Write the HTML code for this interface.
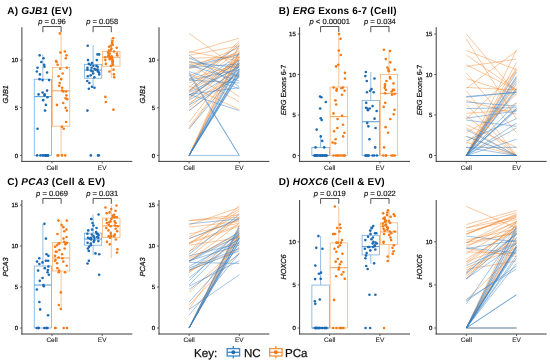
<!DOCTYPE html>
<html><head><meta charset="utf-8"><style>
html,body{margin:0;padding:0;background:#fff;width:550px;height:364px;overflow:hidden;position:relative}
</style></head><body>
<svg width="550" height="364" viewBox="0 0 550 364" style="position:absolute;left:0;top:0;font-family:'Liberation Sans', sans-serif;text-rendering:geometricPrecision;filter:blur(0.3px)">
<rect width="550" height="364" fill="#ffffff"/>
<text x="7.3" y="13.95" font-size="10.0" font-weight="bold" text-anchor="start" fill="#000" letter-spacing="0.22" xml:space="preserve"><tspan>A) </tspan><tspan font-style="italic">GJB1</tspan><tspan> (EV)</tspan></text>
<line x1="21.9" y1="27.2" x2="21.9" y2="161.9" stroke="#3d3d3d" stroke-width="1.0"/>
<line x1="21.4" y1="161.4" x2="132.3" y2="161.4" stroke="#3d3d3d" stroke-width="1.0"/>
<line x1="19.9" y1="155.4" x2="21.9" y2="155.4" stroke="#3d3d3d" stroke-width="0.8"/>
<text x="18.1" y="157.55" font-size="6.0" font-weight="normal" text-anchor="end" fill="#111" stroke="#111" stroke-width="0.25" xml:space="preserve"><tspan>0</tspan></text>
<line x1="19.9" y1="107.75" x2="21.9" y2="107.75" stroke="#3d3d3d" stroke-width="0.8"/>
<text x="18.1" y="109.9" font-size="6.0" font-weight="normal" text-anchor="end" fill="#111" stroke="#111" stroke-width="0.25" xml:space="preserve"><tspan>5</tspan></text>
<line x1="19.9" y1="60.1" x2="21.9" y2="60.1" stroke="#3d3d3d" stroke-width="0.8"/>
<text x="18.1" y="62.25" font-size="6.0" font-weight="normal" text-anchor="end" fill="#111" stroke="#111" stroke-width="0.25" xml:space="preserve"><tspan>10</tspan></text>
<line x1="52" y1="161.4" x2="52" y2="163.4" stroke="#3d3d3d" stroke-width="0.8"/>
<text x="52" y="169.6" font-size="6.5" font-weight="normal" text-anchor="middle" fill="#222" stroke="#222" stroke-width="0.1" xml:space="preserve"><tspan>Cell</tspan></text>
<line x1="102.2" y1="161.4" x2="102.2" y2="163.4" stroke="#3d3d3d" stroke-width="0.8"/>
<text x="102.2" y="169.6" font-size="6.5" font-weight="normal" text-anchor="middle" fill="#222" stroke="#222" stroke-width="0.1" xml:space="preserve"><tspan>EV</tspan></text>
<g transform="translate(7.8,94.3) rotate(-90)">
<text x="0" y="0" font-size="7.3" font-weight="normal" text-anchor="middle" fill="#111" stroke="#111" stroke-width="0.22" xml:space="preserve"><tspan font-style="italic">GJB1</tspan></text>
</g>
<line x1="159" y1="27.2" x2="159" y2="161.9" stroke="#3d3d3d" stroke-width="1.0"/>
<line x1="158.5" y1="161.4" x2="269.4" y2="161.4" stroke="#3d3d3d" stroke-width="1.0"/>
<line x1="157" y1="155.4" x2="159" y2="155.4" stroke="#3d3d3d" stroke-width="0.8"/>
<text x="155.2" y="157.55" font-size="6.0" font-weight="normal" text-anchor="end" fill="#111" stroke="#111" stroke-width="0.25" xml:space="preserve"><tspan>0</tspan></text>
<line x1="157" y1="107.75" x2="159" y2="107.75" stroke="#3d3d3d" stroke-width="0.8"/>
<text x="155.2" y="109.9" font-size="6.0" font-weight="normal" text-anchor="end" fill="#111" stroke="#111" stroke-width="0.25" xml:space="preserve"><tspan>5</tspan></text>
<line x1="157" y1="60.1" x2="159" y2="60.1" stroke="#3d3d3d" stroke-width="0.8"/>
<text x="155.2" y="62.25" font-size="6.0" font-weight="normal" text-anchor="end" fill="#111" stroke="#111" stroke-width="0.25" xml:space="preserve"><tspan>10</tspan></text>
<line x1="189.1" y1="161.4" x2="189.1" y2="163.4" stroke="#3d3d3d" stroke-width="0.8"/>
<text x="189.1" y="169.6" font-size="6.5" font-weight="normal" text-anchor="middle" fill="#222" stroke="#222" stroke-width="0.1" xml:space="preserve"><tspan>Cell</tspan></text>
<line x1="239.3" y1="161.4" x2="239.3" y2="163.4" stroke="#3d3d3d" stroke-width="0.8"/>
<text x="239.3" y="169.6" font-size="6.5" font-weight="normal" text-anchor="middle" fill="#222" stroke="#222" stroke-width="0.1" xml:space="preserve"><tspan>EV</tspan></text>
<g transform="translate(144.9,94.3) rotate(-90)">
<text x="0" y="0" font-size="7.3" font-weight="normal" text-anchor="middle" fill="#111" stroke="#111" stroke-width="0.22" xml:space="preserve"><tspan font-style="italic">GJB1</tspan></text>
</g>
<text x="52" y="24.3" font-size="7.6" font-weight="normal" text-anchor="middle" fill="#111" stroke="#111" stroke-width="0.15" xml:space="preserve"><tspan font-style="italic">p</tspan><tspan> = 0.96</tspan></text>
<path d="M42.9 32.2 V26.5 H61.1 V32.2" stroke="#333" stroke-width="0.85" fill="none"/>
<text x="102.2" y="24.3" font-size="7.6" font-weight="normal" text-anchor="middle" fill="#111" stroke="#111" stroke-width="0.15" xml:space="preserve"><tspan font-style="italic">p</tspan><tspan> = 0.058</tspan></text>
<path d="M93.1 32.2 V26.5 H111.3 V32.2" stroke="#333" stroke-width="0.85" fill="none"/>
<g stroke="#5b9ad6" stroke-width="0.65" fill="none">
<line x1="42.9" y1="79.16" x2="42.9" y2="54.38"/>
<rect x="34.2" y="79.16" width="17.4" height="76.24"/>
<line x1="34.2" y1="96.6" x2="51.6" y2="96.6" stroke-width="1.05"/>
</g>
<g fill="#1c6bb4">
<circle cx="39.65" cy="55.34" r="1.3"/>
<circle cx="43.45" cy="58.19" r="1.3"/>
<circle cx="41.29" cy="62.01" r="1.3"/>
<circle cx="44.19" cy="64.87" r="1.3"/>
<circle cx="44.46" cy="66.77" r="1.3"/>
<circle cx="37.51" cy="67.72" r="1.3"/>
<circle cx="36.86" cy="71.54" r="1.3"/>
<circle cx="47.08" cy="72.49" r="1.3"/>
<circle cx="39.92" cy="74.4" r="1.3"/>
<circle cx="39.61" cy="79.16" r="1.3"/>
<circle cx="49.05" cy="80.11" r="1.3"/>
<circle cx="42.53" cy="80.11" r="1.3"/>
<circle cx="47.07" cy="90.6" r="1.3"/>
<circle cx="42.61" cy="92.5" r="1.3"/>
<circle cx="44.62" cy="94.41" r="1.3"/>
<circle cx="38.57" cy="94.41" r="1.3"/>
<circle cx="44.57" cy="95.36" r="1.3"/>
<circle cx="47.46" cy="97.27" r="1.3"/>
<circle cx="43.19" cy="100.13" r="1.3"/>
<circle cx="45.89" cy="104.89" r="1.3"/>
<circle cx="45.03" cy="110.61" r="1.3"/>
<circle cx="37.49" cy="128.72" r="1.3"/>
<circle cx="46.1" cy="155.4" r="1.3"/>
<circle cx="44.03" cy="155.4" r="1.3"/>
<circle cx="40.44" cy="155.4" r="1.3"/>
<circle cx="37.08" cy="155.4" r="1.3"/>
<circle cx="47.43" cy="155.4" r="1.3"/>
<circle cx="42.56" cy="155.4" r="1.3"/>
<circle cx="45.61" cy="155.4" r="1.3"/>
<circle cx="47.6" cy="155.4" r="1.3"/>
<circle cx="45.56" cy="155.4" r="1.3"/>
<circle cx="48.12" cy="155.4" r="1.3"/>
</g>
<g stroke="#f5a45c" stroke-width="0.65" fill="none">
<line x1="61.1" y1="67.53" x2="61.1" y2="33.13"/>
<line x1="61.1" y1="126.14" x2="61.1" y2="155.4"/>
<rect x="52.4" y="67.53" width="17.4" height="58.61"/>
<line x1="52.4" y1="90.79" x2="69.8" y2="90.79" stroke-width="1.05"/>
</g>
<g fill="#f57a14">
<circle cx="59.8" cy="33.42" r="1.3"/>
<circle cx="64.83" cy="51.52" r="1.3"/>
<circle cx="60.41" cy="52.48" r="1.3"/>
<circle cx="66.5" cy="55.34" r="1.3"/>
<circle cx="65.8" cy="58.19" r="1.3"/>
<circle cx="56.11" cy="61.05" r="1.3"/>
<circle cx="56.59" cy="62.01" r="1.3"/>
<circle cx="57.59" cy="64.87" r="1.3"/>
<circle cx="66.87" cy="67.72" r="1.3"/>
<circle cx="60.31" cy="68.68" r="1.3"/>
<circle cx="62.67" cy="73.44" r="1.3"/>
<circle cx="58.63" cy="76.3" r="1.3"/>
<circle cx="61.19" cy="79.16" r="1.3"/>
<circle cx="59.68" cy="82.97" r="1.3"/>
<circle cx="59.25" cy="85.83" r="1.3"/>
<circle cx="62.15" cy="87.74" r="1.3"/>
<circle cx="62.14" cy="90.6" r="1.3"/>
<circle cx="66.11" cy="91.55" r="1.3"/>
<circle cx="63.36" cy="91.55" r="1.3"/>
<circle cx="66.42" cy="95.36" r="1.3"/>
<circle cx="65.52" cy="98.22" r="1.3"/>
<circle cx="67.19" cy="99.17" r="1.3"/>
<circle cx="63.22" cy="102.99" r="1.3"/>
<circle cx="56.92" cy="104.89" r="1.3"/>
<circle cx="65.57" cy="107.75" r="1.3"/>
<circle cx="66.86" cy="110.61" r="1.3"/>
<circle cx="66.12" cy="122.05" r="1.3"/>
<circle cx="61.96" cy="126.81" r="1.3"/>
<circle cx="63.75" cy="128.72" r="1.3"/>
<circle cx="57.52" cy="155.4" r="1.3"/>
<circle cx="65.21" cy="155.4" r="1.3"/>
<circle cx="62.01" cy="155.4" r="1.3"/>
<circle cx="58.43" cy="155.4" r="1.3"/>
</g>
<g stroke="#5b9ad6" stroke-width="0.65" fill="none">
<line x1="93.1" y1="64.29" x2="93.1" y2="45.14"/>
<line x1="93.1" y1="78.21" x2="93.1" y2="88.02"/>
<rect x="84.4" y="64.29" width="17.4" height="13.91"/>
<line x1="84.4" y1="70.11" x2="101.8" y2="70.11" stroke-width="1.05"/>
</g>
<g fill="#1c6bb4">
<circle cx="87.69" cy="45.81" r="1.3"/>
<circle cx="97.49" cy="54.38" r="1.3"/>
<circle cx="99.17" cy="54.38" r="1.3"/>
<circle cx="88" cy="60.1" r="1.3"/>
<circle cx="96.83" cy="60.1" r="1.3"/>
<circle cx="91.99" cy="62.96" r="1.3"/>
<circle cx="88.77" cy="63.91" r="1.3"/>
<circle cx="90.54" cy="64.87" r="1.3"/>
<circle cx="96.43" cy="65.82" r="1.3"/>
<circle cx="97.72" cy="66.77" r="1.3"/>
<circle cx="87.45" cy="67.72" r="1.3"/>
<circle cx="94.52" cy="68.68" r="1.3"/>
<circle cx="87.46" cy="69.63" r="1.3"/>
<circle cx="95.81" cy="69.63" r="1.3"/>
<circle cx="91" cy="70.58" r="1.3"/>
<circle cx="97.82" cy="71.54" r="1.3"/>
<circle cx="99.06" cy="72.49" r="1.3"/>
<circle cx="93.17" cy="73.44" r="1.3"/>
<circle cx="99.28" cy="74.4" r="1.3"/>
<circle cx="90.74" cy="75.35" r="1.3"/>
<circle cx="87.85" cy="76.3" r="1.3"/>
<circle cx="94.34" cy="77.25" r="1.3"/>
<circle cx="87.29" cy="81.07" r="1.3"/>
<circle cx="89.35" cy="82.97" r="1.3"/>
<circle cx="91.96" cy="86.78" r="1.3"/>
<circle cx="94.47" cy="87.74" r="1.3"/>
<circle cx="88.84" cy="88.69" r="1.3"/>
<circle cx="87.43" cy="110.61" r="1.3"/>
<circle cx="97.66" cy="69.63" r="1.3"/>
<circle cx="90.79" cy="155.4" r="1.3"/>
<circle cx="98.79" cy="155.4" r="1.3"/>
<circle cx="98.02" cy="155.4" r="1.3"/>
<circle cx="91.58" cy="67.72" r="1.3"/>
<circle cx="92.61" cy="71.54" r="1.3"/>
<circle cx="93.35" cy="65.82" r="1.3"/>
</g>
<g stroke="#f5a45c" stroke-width="0.65" fill="none">
<line x1="111.3" y1="51.52" x2="111.3" y2="38.18"/>
<line x1="111.3" y1="66.2" x2="111.3" y2="77.83"/>
<rect x="102.6" y="51.52" width="17.4" height="14.68"/>
<line x1="102.6" y1="57.24" x2="120" y2="57.24" stroke-width="1.05"/>
</g>
<g fill="#f57a14">
<circle cx="113.08" cy="38.18" r="1.3"/>
<circle cx="112.49" cy="41.04" r="1.3"/>
<circle cx="112.03" cy="42.95" r="1.3"/>
<circle cx="112.79" cy="44.85" r="1.3"/>
<circle cx="116.76" cy="47.71" r="1.3"/>
<circle cx="111.39" cy="48.66" r="1.3"/>
<circle cx="110.45" cy="50.57" r="1.3"/>
<circle cx="114.03" cy="51.52" r="1.3"/>
<circle cx="108.05" cy="52.48" r="1.3"/>
<circle cx="108.83" cy="54.38" r="1.3"/>
<circle cx="117.22" cy="55.34" r="1.3"/>
<circle cx="111.56" cy="56.29" r="1.3"/>
<circle cx="111.9" cy="57.24" r="1.3"/>
<circle cx="105.24" cy="57.24" r="1.3"/>
<circle cx="110.25" cy="58.19" r="1.3"/>
<circle cx="112.29" cy="59.15" r="1.3"/>
<circle cx="105.35" cy="60.1" r="1.3"/>
<circle cx="112.74" cy="61.05" r="1.3"/>
<circle cx="112.94" cy="62.01" r="1.3"/>
<circle cx="105.84" cy="63.91" r="1.3"/>
<circle cx="112.88" cy="64.87" r="1.3"/>
<circle cx="110.88" cy="65.82" r="1.3"/>
<circle cx="113.52" cy="69.63" r="1.3"/>
<circle cx="109.47" cy="71.54" r="1.3"/>
<circle cx="113.87" cy="74.4" r="1.3"/>
<circle cx="114.25" cy="77.25" r="1.3"/>
<circle cx="105.38" cy="96.89" r="1.3"/>
<circle cx="105.85" cy="102.03" r="1.3"/>
<circle cx="113.48" cy="109.66" r="1.3"/>
<circle cx="117.04" cy="53.43" r="1.3"/>
<circle cx="108.21" cy="56.29" r="1.3"/>
<circle cx="110.76" cy="45.81" r="1.3"/>
<circle cx="112.45" cy="62.96" r="1.3"/>
<circle cx="109.07" cy="46.76" r="1.3"/>
<circle cx="109.61" cy="53.43" r="1.3"/>
<circle cx="108.98" cy="55.34" r="1.3"/>
<circle cx="109.68" cy="59.15" r="1.3"/>
<circle cx="112.49" cy="61.05" r="1.3"/>
<circle cx="108.83" cy="50.57" r="1.3"/>
<circle cx="109.78" cy="57.24" r="1.3"/>
</g>
<g stroke="#f28a35" stroke-width="0.8" stroke-opacity="0.58" fill="none">
<line x1="189.1" y1="73.44" x2="239.3" y2="102.03"/>
<line x1="189.1" y1="62.01" x2="239.3" y2="96.89"/>
<line x1="189.1" y1="55.34" x2="239.3" y2="45.81"/>
<line x1="189.1" y1="128.72" x2="239.3" y2="62.96"/>
<line x1="189.1" y1="64.87" x2="239.3" y2="53.43"/>
<line x1="189.1" y1="67.72" x2="239.3" y2="47.71"/>
<line x1="189.1" y1="58.19" x2="239.3" y2="57.24"/>
<line x1="189.1" y1="61.05" x2="239.3" y2="77.25"/>
<line x1="189.1" y1="33.42" x2="239.3" y2="69.63"/>
<line x1="189.1" y1="91.55" x2="239.3" y2="48.66"/>
<line x1="189.1" y1="52.48" x2="239.3" y2="38.18"/>
<line x1="189.1" y1="102.99" x2="239.3" y2="74.4"/>
<line x1="189.1" y1="82.97" x2="239.3" y2="64.87"/>
<line x1="189.1" y1="79.16" x2="239.3" y2="63.91"/>
<line x1="189.1" y1="85.83" x2="239.3" y2="109.66"/>
<line x1="189.1" y1="155.4" x2="239.3" y2="51.52"/>
<line x1="189.1" y1="99.17" x2="239.3" y2="55.34"/>
<line x1="189.1" y1="122.05" x2="239.3" y2="57.24"/>
<line x1="189.1" y1="155.4" x2="239.3" y2="56.29"/>
<line x1="189.1" y1="107.75" x2="239.3" y2="65.82"/>
<line x1="189.1" y1="91.55" x2="239.3" y2="59.15"/>
<line x1="189.1" y1="98.22" x2="239.3" y2="60.1"/>
<line x1="189.1" y1="68.68" x2="239.3" y2="54.38"/>
<line x1="189.1" y1="90.6" x2="239.3" y2="42.95"/>
<line x1="189.1" y1="155.4" x2="239.3" y2="44.85"/>
<line x1="189.1" y1="126.81" x2="239.3" y2="62.01"/>
<line x1="189.1" y1="110.61" x2="239.3" y2="71.54"/>
<line x1="189.1" y1="76.3" x2="239.3" y2="50.57"/>
<line x1="189.1" y1="104.89" x2="239.3" y2="56.29"/>
<line x1="189.1" y1="51.52" x2="239.3" y2="61.05"/>
<line x1="189.1" y1="87.74" x2="239.3" y2="41.04"/>
<line x1="189.1" y1="95.36" x2="239.3" y2="58.19"/>
<line x1="189.1" y1="155.4" x2="239.3" y2="52.48"/>
</g>
<g stroke="#3a82c4" stroke-width="0.8" stroke-opacity="0.6" fill="none">
<line x1="189.1" y1="97.27" x2="239.3" y2="60.1"/>
<line x1="189.1" y1="155.4" x2="239.3" y2="155.4"/>
<line x1="189.1" y1="155.4" x2="239.3" y2="62.96"/>
<line x1="189.1" y1="66.77" x2="239.3" y2="54.38"/>
<line x1="189.1" y1="92.5" x2="239.3" y2="66.77"/>
<line x1="189.1" y1="104.89" x2="239.3" y2="77.25"/>
<line x1="189.1" y1="155.4" x2="239.3" y2="73.44"/>
<line x1="189.1" y1="71.54" x2="239.3" y2="88.69"/>
<line x1="189.1" y1="94.41" x2="239.3" y2="110.61"/>
<line x1="189.1" y1="80.11" x2="239.3" y2="82.97"/>
<line x1="189.1" y1="155.4" x2="239.3" y2="70.58"/>
<line x1="189.1" y1="72.49" x2="239.3" y2="155.4"/>
<line x1="189.1" y1="155.4" x2="239.3" y2="75.35"/>
<line x1="189.1" y1="155.4" x2="239.3" y2="64.87"/>
<line x1="189.1" y1="100.13" x2="239.3" y2="69.63"/>
<line x1="189.1" y1="55.34" x2="239.3" y2="86.78"/>
<line x1="189.1" y1="58.19" x2="239.3" y2="76.3"/>
<line x1="189.1" y1="155.4" x2="239.3" y2="71.54"/>
<line x1="189.1" y1="155.4" x2="239.3" y2="69.63"/>
<line x1="189.1" y1="67.72" x2="239.3" y2="63.91"/>
<line x1="189.1" y1="94.41" x2="239.3" y2="87.74"/>
<line x1="189.1" y1="90.6" x2="239.3" y2="54.38"/>
<line x1="189.1" y1="128.72" x2="239.3" y2="68.68"/>
<line x1="189.1" y1="155.4" x2="239.3" y2="60.1"/>
<line x1="189.1" y1="62.01" x2="239.3" y2="67.72"/>
<line x1="189.1" y1="79.16" x2="239.3" y2="45.81"/>
<line x1="189.1" y1="64.87" x2="239.3" y2="81.07"/>
<line x1="189.1" y1="110.61" x2="239.3" y2="72.49"/>
<line x1="189.1" y1="95.36" x2="239.3" y2="65.82"/>
<line x1="189.1" y1="155.4" x2="239.3" y2="74.4"/>
<line x1="189.1" y1="74.4" x2="239.3" y2="155.4"/>
<line x1="189.1" y1="80.11" x2="239.3" y2="69.63"/>
</g>
<text x="278.8" y="13.95" font-size="10.0" font-weight="bold" text-anchor="start" fill="#000" letter-spacing="0.22" xml:space="preserve"><tspan>B) </tspan><tspan font-style="italic">ERG</tspan><tspan> Exons 6-7 (Cell)</tspan></text>
<line x1="299.6" y1="27.2" x2="299.6" y2="161.9" stroke="#3d3d3d" stroke-width="1.0"/>
<line x1="299.1" y1="161.4" x2="410" y2="161.4" stroke="#3d3d3d" stroke-width="1.0"/>
<line x1="297.6" y1="155.5" x2="299.6" y2="155.5" stroke="#3d3d3d" stroke-width="0.8"/>
<text x="295.8" y="157.65" font-size="6.0" font-weight="normal" text-anchor="end" fill="#111" stroke="#111" stroke-width="0.25" xml:space="preserve"><tspan>0</tspan></text>
<line x1="297.6" y1="115" x2="299.6" y2="115" stroke="#3d3d3d" stroke-width="0.8"/>
<text x="295.8" y="117.15" font-size="6.0" font-weight="normal" text-anchor="end" fill="#111" stroke="#111" stroke-width="0.25" xml:space="preserve"><tspan>5</tspan></text>
<line x1="297.6" y1="74.5" x2="299.6" y2="74.5" stroke="#3d3d3d" stroke-width="0.8"/>
<text x="295.8" y="76.65" font-size="6.0" font-weight="normal" text-anchor="end" fill="#111" stroke="#111" stroke-width="0.25" xml:space="preserve"><tspan>10</tspan></text>
<line x1="297.6" y1="34" x2="299.6" y2="34" stroke="#3d3d3d" stroke-width="0.8"/>
<text x="295.8" y="36.15" font-size="6.0" font-weight="normal" text-anchor="end" fill="#111" stroke="#111" stroke-width="0.25" xml:space="preserve"><tspan>15</tspan></text>
<line x1="329.7" y1="161.4" x2="329.7" y2="163.4" stroke="#3d3d3d" stroke-width="0.8"/>
<text x="329.7" y="169.6" font-size="6.5" font-weight="normal" text-anchor="middle" fill="#222" stroke="#222" stroke-width="0.1" xml:space="preserve"><tspan>Cell</tspan></text>
<line x1="379.9" y1="161.4" x2="379.9" y2="163.4" stroke="#3d3d3d" stroke-width="0.8"/>
<text x="379.9" y="169.6" font-size="6.5" font-weight="normal" text-anchor="middle" fill="#222" stroke="#222" stroke-width="0.1" xml:space="preserve"><tspan>EV</tspan></text>
<g transform="translate(285.5,90) rotate(-90)">
<text x="0" y="0" font-size="7.3" font-weight="normal" text-anchor="middle" fill="#111" stroke="#111" stroke-width="0.22" xml:space="preserve"><tspan font-style="italic">ERG</tspan><tspan> Exons 6-7</tspan></text>
</g>
<line x1="436.2" y1="27.2" x2="436.2" y2="161.9" stroke="#3d3d3d" stroke-width="1.0"/>
<line x1="435.7" y1="161.4" x2="546.6" y2="161.4" stroke="#3d3d3d" stroke-width="1.0"/>
<line x1="434.2" y1="155.5" x2="436.2" y2="155.5" stroke="#3d3d3d" stroke-width="0.8"/>
<text x="432.4" y="157.65" font-size="6.0" font-weight="normal" text-anchor="end" fill="#111" stroke="#111" stroke-width="0.25" xml:space="preserve"><tspan>0</tspan></text>
<line x1="434.2" y1="115" x2="436.2" y2="115" stroke="#3d3d3d" stroke-width="0.8"/>
<text x="432.4" y="117.15" font-size="6.0" font-weight="normal" text-anchor="end" fill="#111" stroke="#111" stroke-width="0.25" xml:space="preserve"><tspan>5</tspan></text>
<line x1="434.2" y1="74.5" x2="436.2" y2="74.5" stroke="#3d3d3d" stroke-width="0.8"/>
<text x="432.4" y="76.65" font-size="6.0" font-weight="normal" text-anchor="end" fill="#111" stroke="#111" stroke-width="0.25" xml:space="preserve"><tspan>10</tspan></text>
<line x1="434.2" y1="34" x2="436.2" y2="34" stroke="#3d3d3d" stroke-width="0.8"/>
<text x="432.4" y="36.15" font-size="6.0" font-weight="normal" text-anchor="end" fill="#111" stroke="#111" stroke-width="0.25" xml:space="preserve"><tspan>15</tspan></text>
<line x1="466.3" y1="161.4" x2="466.3" y2="163.4" stroke="#3d3d3d" stroke-width="0.8"/>
<text x="466.3" y="169.6" font-size="6.5" font-weight="normal" text-anchor="middle" fill="#222" stroke="#222" stroke-width="0.1" xml:space="preserve"><tspan>Cell</tspan></text>
<line x1="516.5" y1="161.4" x2="516.5" y2="163.4" stroke="#3d3d3d" stroke-width="0.8"/>
<text x="516.5" y="169.6" font-size="6.5" font-weight="normal" text-anchor="middle" fill="#222" stroke="#222" stroke-width="0.1" xml:space="preserve"><tspan>EV</tspan></text>
<g transform="translate(422.1,90) rotate(-90)">
<text x="0" y="0" font-size="7.3" font-weight="normal" text-anchor="middle" fill="#111" stroke="#111" stroke-width="0.22" xml:space="preserve"><tspan font-style="italic">ERG</tspan><tspan> Exons 6-7</tspan></text>
</g>
<text x="329.7" y="24.3" font-size="7.6" font-weight="normal" text-anchor="middle" fill="#111" stroke="#111" stroke-width="0.15" xml:space="preserve"><tspan font-style="italic">p</tspan><tspan> &lt; 0.00001</tspan></text>
<path d="M320.6 32.2 V26.5 H338.8 V32.2" stroke="#333" stroke-width="0.85" fill="none"/>
<text x="379.9" y="24.3" font-size="7.6" font-weight="normal" text-anchor="middle" fill="#111" stroke="#111" stroke-width="0.15" xml:space="preserve"><tspan font-style="italic">p</tspan><tspan> = 0.034</tspan></text>
<path d="M370.8 32.2 V26.5 H389 V32.2" stroke="#333" stroke-width="0.85" fill="none"/>
<g stroke="#5b9ad6" stroke-width="0.65" fill="none">
<line x1="320.6" y1="147.4" x2="320.6" y2="136.87"/>
<rect x="311.9" y="147.4" width="17.4" height="8.1"/>
<line x1="311.9" y1="155.5" x2="329.3" y2="155.5" stroke-width="1.05"/>
</g>
<g fill="#1c6bb4">
<circle cx="320.01" cy="96.53" r="1.3"/>
<circle cx="321.34" cy="97.18" r="1.3"/>
<circle cx="325.86" cy="102.04" r="1.3"/>
<circle cx="320.17" cy="108.52" r="1.3"/>
<circle cx="320.7" cy="118.24" r="1.3"/>
<circle cx="321.68" cy="120.1" r="1.3"/>
<circle cx="316.69" cy="129.58" r="1.3"/>
<circle cx="320.75" cy="136.38" r="1.3"/>
<circle cx="322.21" cy="140.92" r="1.3"/>
<circle cx="324.23" cy="147.4" r="1.3"/>
<circle cx="315.57" cy="147.4" r="1.3"/>
<circle cx="318.16" cy="155.5" r="1.3"/>
<circle cx="315.52" cy="155.5" r="1.3"/>
<circle cx="324.44" cy="155.5" r="1.3"/>
<circle cx="323" cy="155.5" r="1.3"/>
<circle cx="314.92" cy="155.5" r="1.3"/>
<circle cx="326.58" cy="155.5" r="1.3"/>
<circle cx="326.36" cy="155.5" r="1.3"/>
<circle cx="322.51" cy="155.5" r="1.3"/>
<circle cx="322.03" cy="155.5" r="1.3"/>
<circle cx="316.35" cy="155.5" r="1.3"/>
<circle cx="314.59" cy="155.5" r="1.3"/>
<circle cx="320.95" cy="155.5" r="1.3"/>
<circle cx="315.14" cy="155.5" r="1.3"/>
<circle cx="316.76" cy="155.5" r="1.3"/>
<circle cx="317.4" cy="155.5" r="1.3"/>
<circle cx="314.77" cy="155.5" r="1.3"/>
<circle cx="320.15" cy="155.5" r="1.3"/>
<circle cx="319.86" cy="155.5" r="1.3"/>
<circle cx="324.85" cy="155.5" r="1.3"/>
</g>
<g stroke="#f5a45c" stroke-width="0.65" fill="none">
<line x1="338.8" y1="87.06" x2="338.8" y2="33.19"/>
<rect x="330.1" y="87.06" width="17.4" height="68.44"/>
<line x1="330.1" y1="116.62" x2="347.5" y2="116.62" stroke-width="1.05"/>
</g>
<g fill="#f57a14">
<circle cx="339.04" cy="34" r="1.3"/>
<circle cx="340.54" cy="38.86" r="1.3"/>
<circle cx="338.8" cy="50.61" r="1.3"/>
<circle cx="340.81" cy="55.06" r="1.3"/>
<circle cx="338.27" cy="64.78" r="1.3"/>
<circle cx="336.05" cy="66.4" r="1.3"/>
<circle cx="344.97" cy="72.88" r="1.3"/>
<circle cx="344.95" cy="78.55" r="1.3"/>
<circle cx="343.02" cy="87.46" r="1.3"/>
<circle cx="341.38" cy="88.27" r="1.3"/>
<circle cx="336.51" cy="90.7" r="1.3"/>
<circle cx="335.45" cy="100.42" r="1.3"/>
<circle cx="336.18" cy="104.47" r="1.3"/>
<circle cx="333.47" cy="113.38" r="1.3"/>
<circle cx="342.1" cy="115.81" r="1.3"/>
<circle cx="337.56" cy="119.05" r="1.3"/>
<circle cx="343.1" cy="124.72" r="1.3"/>
<circle cx="337.39" cy="127.96" r="1.3"/>
<circle cx="344.48" cy="132.82" r="1.3"/>
<circle cx="343.11" cy="136.38" r="1.3"/>
<circle cx="332.61" cy="142.54" r="1.3"/>
<circle cx="335.2" cy="143.35" r="1.3"/>
<circle cx="343.89" cy="155.5" r="1.3"/>
<circle cx="338.43" cy="155.5" r="1.3"/>
<circle cx="344.76" cy="155.5" r="1.3"/>
<circle cx="337.53" cy="155.5" r="1.3"/>
<circle cx="333.51" cy="155.5" r="1.3"/>
<circle cx="340.41" cy="155.5" r="1.3"/>
<circle cx="342.25" cy="155.5" r="1.3"/>
<circle cx="335.95" cy="155.5" r="1.3"/>
<circle cx="333.68" cy="87.46" r="1.3"/>
<circle cx="336.72" cy="89.08" r="1.3"/>
<circle cx="344.55" cy="90.7" r="1.3"/>
<circle cx="342" cy="94.75" r="1.3"/>
<circle cx="334.06" cy="131.2" r="1.3"/>
<circle cx="335.66" cy="139.3" r="1.3"/>
</g>
<g stroke="#5b9ad6" stroke-width="0.65" fill="none">
<line x1="370.8" y1="100.42" x2="370.8" y2="72.07"/>
<rect x="362.1" y="100.42" width="17.4" height="55.08"/>
<line x1="362.1" y1="121.72" x2="379.5" y2="121.72" stroke-width="1.05"/>
</g>
<g fill="#1c6bb4">
<circle cx="365.85" cy="72.07" r="1.3"/>
<circle cx="365.34" cy="76.12" r="1.3"/>
<circle cx="374.48" cy="78.55" r="1.3"/>
<circle cx="366.8" cy="80.98" r="1.3"/>
<circle cx="371.54" cy="89.08" r="1.3"/>
<circle cx="370.15" cy="90.7" r="1.3"/>
<circle cx="366.96" cy="92.32" r="1.3"/>
<circle cx="373.68" cy="92.32" r="1.3"/>
<circle cx="366.22" cy="102.85" r="1.3"/>
<circle cx="372.58" cy="106.09" r="1.3"/>
<circle cx="366.04" cy="107.71" r="1.3"/>
<circle cx="369.82" cy="108.52" r="1.3"/>
<circle cx="367.24" cy="108.52" r="1.3"/>
<circle cx="367.95" cy="110.14" r="1.3"/>
<circle cx="376.64" cy="110.95" r="1.3"/>
<circle cx="374.56" cy="118.65" r="1.3"/>
<circle cx="368.37" cy="126.34" r="1.3"/>
<circle cx="375.57" cy="127.96" r="1.3"/>
<circle cx="367.21" cy="123.1" r="1.3"/>
<circle cx="369.49" cy="139.3" r="1.3"/>
<circle cx="375.19" cy="147.4" r="1.3"/>
<circle cx="372.56" cy="155.5" r="1.3"/>
<circle cx="365.84" cy="155.5" r="1.3"/>
<circle cx="376.87" cy="155.5" r="1.3"/>
<circle cx="367.24" cy="155.5" r="1.3"/>
<circle cx="367.8" cy="155.5" r="1.3"/>
<circle cx="374.18" cy="155.5" r="1.3"/>
<circle cx="368.68" cy="155.5" r="1.3"/>
<circle cx="368.27" cy="155.5" r="1.3"/>
<circle cx="365.51" cy="155.5" r="1.3"/>
</g>
<g stroke="#f5a45c" stroke-width="0.65" fill="none">
<line x1="389" y1="74.5" x2="389" y2="49.71"/>
<rect x="380.3" y="74.5" width="17.4" height="81"/>
<line x1="380.3" y1="93.37" x2="397.7" y2="93.37" stroke-width="1.05"/>
</g>
<g fill="#f57a14">
<circle cx="383.92" cy="49.71" r="1.3"/>
<circle cx="390.03" cy="51.01" r="1.3"/>
<circle cx="385.81" cy="59.11" r="1.3"/>
<circle cx="390.26" cy="62.35" r="1.3"/>
<circle cx="387.41" cy="67.62" r="1.3"/>
<circle cx="388.42" cy="69.64" r="1.3"/>
<circle cx="394.69" cy="69.64" r="1.3"/>
<circle cx="388.8" cy="71.26" r="1.3"/>
<circle cx="389.92" cy="76.93" r="1.3"/>
<circle cx="393.54" cy="83.41" r="1.3"/>
<circle cx="385.07" cy="84.22" r="1.3"/>
<circle cx="384.71" cy="87.87" r="1.3"/>
<circle cx="394.06" cy="89.89" r="1.3"/>
<circle cx="392.94" cy="89.89" r="1.3"/>
<circle cx="385.89" cy="89.89" r="1.3"/>
<circle cx="385.15" cy="93.37" r="1.3"/>
<circle cx="391.97" cy="94.75" r="1.3"/>
<circle cx="394.46" cy="93.94" r="1.3"/>
<circle cx="385.24" cy="102.85" r="1.3"/>
<circle cx="394.58" cy="109.73" r="1.3"/>
<circle cx="393.74" cy="114.19" r="1.3"/>
<circle cx="390.28" cy="119.05" r="1.3"/>
<circle cx="388.03" cy="132.82" r="1.3"/>
<circle cx="384.09" cy="147.4" r="1.3"/>
<circle cx="383.28" cy="155.5" r="1.3"/>
<circle cx="394.74" cy="155.5" r="1.3"/>
<circle cx="385.76" cy="155.5" r="1.3"/>
<circle cx="391.54" cy="155.5" r="1.3"/>
<circle cx="385.99" cy="155.5" r="1.3"/>
<circle cx="393.01" cy="155.5" r="1.3"/>
<circle cx="390.2" cy="78.55" r="1.3"/>
<circle cx="386.44" cy="80.98" r="1.3"/>
<circle cx="384.98" cy="85.84" r="1.3"/>
<circle cx="391.73" cy="91.51" r="1.3"/>
<circle cx="383.65" cy="106.9" r="1.3"/>
<circle cx="385.63" cy="127.15" r="1.3"/>
</g>
<g stroke="#f28a35" stroke-width="0.8" stroke-opacity="0.58" fill="none">
<line x1="466.3" y1="100.42" x2="516.5" y2="114.19"/>
<line x1="466.3" y1="66.4" x2="516.5" y2="59.11"/>
<line x1="466.3" y1="64.78" x2="516.5" y2="89.89"/>
<line x1="466.3" y1="132.82" x2="516.5" y2="102.85"/>
<line x1="466.3" y1="90.7" x2="516.5" y2="155.5"/>
<line x1="466.3" y1="142.54" x2="516.5" y2="155.5"/>
<line x1="466.3" y1="113.38" x2="516.5" y2="109.73"/>
<line x1="466.3" y1="38.86" x2="516.5" y2="119.05"/>
<line x1="466.3" y1="136.38" x2="516.5" y2="155.5"/>
<line x1="466.3" y1="124.72" x2="516.5" y2="147.4"/>
<line x1="466.3" y1="155.5" x2="516.5" y2="69.64"/>
<line x1="466.3" y1="155.5" x2="516.5" y2="67.62"/>
<line x1="466.3" y1="88.27" x2="516.5" y2="51.01"/>
<line x1="466.3" y1="155.5" x2="516.5" y2="87.87"/>
<line x1="466.3" y1="34" x2="516.5" y2="93.37"/>
<line x1="466.3" y1="155.5" x2="516.5" y2="84.22"/>
<line x1="466.3" y1="87.46" x2="516.5" y2="89.89"/>
<line x1="466.3" y1="155.5" x2="516.5" y2="83.41"/>
<line x1="466.3" y1="155.5" x2="516.5" y2="76.93"/>
<line x1="466.3" y1="143.35" x2="516.5" y2="93.94"/>
<line x1="466.3" y1="115.81" x2="516.5" y2="155.5"/>
<line x1="466.3" y1="127.96" x2="516.5" y2="155.5"/>
<line x1="466.3" y1="155.5" x2="516.5" y2="49.71"/>
<line x1="466.3" y1="119.05" x2="516.5" y2="71.26"/>
<line x1="466.3" y1="50.61" x2="516.5" y2="69.64"/>
<line x1="466.3" y1="104.47" x2="516.5" y2="155.5"/>
<line x1="466.3" y1="72.88" x2="516.5" y2="132.82"/>
<line x1="466.3" y1="155.5" x2="516.5" y2="62.35"/>
<line x1="466.3" y1="78.55" x2="516.5" y2="94.75"/>
<line x1="466.3" y1="55.06" x2="516.5" y2="89.89"/>
</g>
<g stroke="#3a82c4" stroke-width="0.8" stroke-opacity="0.6" fill="none">
<line x1="466.3" y1="129.58" x2="516.5" y2="155.5"/>
<line x1="466.3" y1="155.5" x2="516.5" y2="155.5"/>
<line x1="466.3" y1="140.92" x2="516.5" y2="118.65"/>
<line x1="466.3" y1="118.24" x2="516.5" y2="110.95"/>
<line x1="466.3" y1="155.5" x2="516.5" y2="78.55"/>
<line x1="466.3" y1="155.5" x2="516.5" y2="123.1"/>
<line x1="466.3" y1="155.5" x2="516.5" y2="89.08"/>
<line x1="466.3" y1="155.5" x2="516.5" y2="155.5"/>
<line x1="466.3" y1="155.5" x2="516.5" y2="139.3"/>
<line x1="466.3" y1="102.04" x2="516.5" y2="106.09"/>
<line x1="466.3" y1="155.5" x2="516.5" y2="127.96"/>
<line x1="466.3" y1="96.53" x2="516.5" y2="92.32"/>
<line x1="466.3" y1="155.5" x2="516.5" y2="110.14"/>
<line x1="466.3" y1="136.38" x2="516.5" y2="155.5"/>
<line x1="466.3" y1="155.5" x2="516.5" y2="90.7"/>
<line x1="466.3" y1="120.1" x2="516.5" y2="126.34"/>
<line x1="466.3" y1="155.5" x2="516.5" y2="80.98"/>
<line x1="466.3" y1="97.18" x2="516.5" y2="92.32"/>
<line x1="466.3" y1="108.52" x2="516.5" y2="107.71"/>
<line x1="466.3" y1="155.5" x2="516.5" y2="108.52"/>
<line x1="466.3" y1="155.5" x2="516.5" y2="155.5"/>
<line x1="466.3" y1="155.5" x2="516.5" y2="76.12"/>
<line x1="466.3" y1="155.5" x2="516.5" y2="155.5"/>
<line x1="466.3" y1="155.5" x2="516.5" y2="72.07"/>
<line x1="466.3" y1="155.5" x2="516.5" y2="155.5"/>
<line x1="466.3" y1="155.5" x2="516.5" y2="108.52"/>
<line x1="466.3" y1="155.5" x2="516.5" y2="102.85"/>
<line x1="466.3" y1="147.4" x2="516.5" y2="147.4"/>
<line x1="466.3" y1="147.4" x2="516.5" y2="155.5"/>
<line x1="466.3" y1="155.5" x2="516.5" y2="155.5"/>
</g>
<text x="7.3" y="185" font-size="10.0" font-weight="bold" text-anchor="start" fill="#000" letter-spacing="0.22" xml:space="preserve"><tspan>C) </tspan><tspan font-style="italic">PCA3</tspan><tspan> (Cell &amp; EV)</tspan></text>
<line x1="21.9" y1="200" x2="21.9" y2="334.5" stroke="#3d3d3d" stroke-width="1.0"/>
<line x1="21.4" y1="334" x2="132.3" y2="334" stroke="#3d3d3d" stroke-width="1.0"/>
<line x1="19.9" y1="328" x2="21.9" y2="328" stroke="#3d3d3d" stroke-width="0.8"/>
<text x="18.1" y="330.15" font-size="6.0" font-weight="normal" text-anchor="end" fill="#111" stroke="#111" stroke-width="0.25" xml:space="preserve"><tspan>0</tspan></text>
<line x1="19.9" y1="287" x2="21.9" y2="287" stroke="#3d3d3d" stroke-width="0.8"/>
<text x="18.1" y="289.15" font-size="6.0" font-weight="normal" text-anchor="end" fill="#111" stroke="#111" stroke-width="0.25" xml:space="preserve"><tspan>5</tspan></text>
<line x1="19.9" y1="246" x2="21.9" y2="246" stroke="#3d3d3d" stroke-width="0.8"/>
<text x="18.1" y="248.15" font-size="6.0" font-weight="normal" text-anchor="end" fill="#111" stroke="#111" stroke-width="0.25" xml:space="preserve"><tspan>10</tspan></text>
<line x1="19.9" y1="205" x2="21.9" y2="205" stroke="#3d3d3d" stroke-width="0.8"/>
<text x="18.1" y="207.15" font-size="6.0" font-weight="normal" text-anchor="end" fill="#111" stroke="#111" stroke-width="0.25" xml:space="preserve"><tspan>15</tspan></text>
<line x1="52" y1="334" x2="52" y2="336" stroke="#3d3d3d" stroke-width="0.8"/>
<text x="52" y="342.3" font-size="6.5" font-weight="normal" text-anchor="middle" fill="#222" stroke="#222" stroke-width="0.1" xml:space="preserve"><tspan>Cell</tspan></text>
<line x1="102.2" y1="334" x2="102.2" y2="336" stroke="#3d3d3d" stroke-width="0.8"/>
<text x="102.2" y="342.3" font-size="6.5" font-weight="normal" text-anchor="middle" fill="#222" stroke="#222" stroke-width="0.1" xml:space="preserve"><tspan>EV</tspan></text>
<g transform="translate(7.8,267) rotate(-90)">
<text x="0" y="0" font-size="7.3" font-weight="normal" text-anchor="middle" fill="#111" stroke="#111" stroke-width="0.22" xml:space="preserve"><tspan font-style="italic">PCA3</tspan></text>
</g>
<line x1="159" y1="200" x2="159" y2="334.5" stroke="#3d3d3d" stroke-width="1.0"/>
<line x1="158.5" y1="334" x2="269.4" y2="334" stroke="#3d3d3d" stroke-width="1.0"/>
<line x1="157" y1="328" x2="159" y2="328" stroke="#3d3d3d" stroke-width="0.8"/>
<text x="155.2" y="330.15" font-size="6.0" font-weight="normal" text-anchor="end" fill="#111" stroke="#111" stroke-width="0.25" xml:space="preserve"><tspan>0</tspan></text>
<line x1="157" y1="287" x2="159" y2="287" stroke="#3d3d3d" stroke-width="0.8"/>
<text x="155.2" y="289.15" font-size="6.0" font-weight="normal" text-anchor="end" fill="#111" stroke="#111" stroke-width="0.25" xml:space="preserve"><tspan>5</tspan></text>
<line x1="157" y1="246" x2="159" y2="246" stroke="#3d3d3d" stroke-width="0.8"/>
<text x="155.2" y="248.15" font-size="6.0" font-weight="normal" text-anchor="end" fill="#111" stroke="#111" stroke-width="0.25" xml:space="preserve"><tspan>10</tspan></text>
<line x1="157" y1="205" x2="159" y2="205" stroke="#3d3d3d" stroke-width="0.8"/>
<text x="155.2" y="207.15" font-size="6.0" font-weight="normal" text-anchor="end" fill="#111" stroke="#111" stroke-width="0.25" xml:space="preserve"><tspan>15</tspan></text>
<line x1="189.1" y1="334" x2="189.1" y2="336" stroke="#3d3d3d" stroke-width="0.8"/>
<text x="189.1" y="342.3" font-size="6.5" font-weight="normal" text-anchor="middle" fill="#222" stroke="#222" stroke-width="0.1" xml:space="preserve"><tspan>Cell</tspan></text>
<line x1="239.3" y1="334" x2="239.3" y2="336" stroke="#3d3d3d" stroke-width="0.8"/>
<text x="239.3" y="342.3" font-size="6.5" font-weight="normal" text-anchor="middle" fill="#222" stroke="#222" stroke-width="0.1" xml:space="preserve"><tspan>EV</tspan></text>
<g transform="translate(144.9,267) rotate(-90)">
<text x="0" y="0" font-size="7.3" font-weight="normal" text-anchor="middle" fill="#111" stroke="#111" stroke-width="0.22" xml:space="preserve"><tspan font-style="italic">PCA3</tspan></text>
</g>
<text x="52" y="196.3" font-size="7.6" font-weight="normal" text-anchor="middle" fill="#111" stroke="#111" stroke-width="0.15" xml:space="preserve"><tspan font-style="italic">p</tspan><tspan> = 0.069</tspan></text>
<path d="M42.9 203.8 V198.5 H61.1 V203.8" stroke="#333" stroke-width="0.85" fill="none"/>
<text x="102.2" y="196.3" font-size="7.6" font-weight="normal" text-anchor="middle" fill="#111" stroke="#111" stroke-width="0.15" xml:space="preserve"><tspan font-style="italic">p</tspan><tspan> = 0.031</tspan></text>
<path d="M93.1 203.8 V198.5 H111.3 V203.8" stroke="#333" stroke-width="0.85" fill="none"/>
<g stroke="#5b9ad6" stroke-width="0.65" fill="none">
<line x1="42.9" y1="266.01" x2="42.9" y2="223.86"/>
<rect x="34.2" y="266.01" width="17.4" height="61.99"/>
<line x1="34.2" y1="285.03" x2="51.6" y2="285.03" stroke-width="1.05"/>
</g>
<g fill="#1c6bb4">
<circle cx="44.42" cy="223.86" r="1.3"/>
<circle cx="45.9" cy="238.62" r="1.3"/>
<circle cx="46.56" cy="254.2" r="1.3"/>
<circle cx="48.39" cy="255.84" r="1.3"/>
<circle cx="45.87" cy="260.76" r="1.3"/>
<circle cx="48.14" cy="260.76" r="1.3"/>
<circle cx="37.06" cy="261.58" r="1.3"/>
<circle cx="42.47" cy="262.4" r="1.3"/>
<circle cx="48.4" cy="266.5" r="1.3"/>
<circle cx="44.75" cy="268.14" r="1.3"/>
<circle cx="47.87" cy="270.03" r="1.3"/>
<circle cx="38.1" cy="270.6" r="1.3"/>
<circle cx="42.52" cy="277.98" r="1.3"/>
<circle cx="39.76" cy="280.85" r="1.3"/>
<circle cx="43.44" cy="285.03" r="1.3"/>
<circle cx="43.82" cy="286.18" r="1.3"/>
<circle cx="36.86" cy="289.46" r="1.3"/>
<circle cx="39.39" cy="302.01" r="1.3"/>
<circle cx="40.17" cy="309.39" r="1.3"/>
<circle cx="48.06" cy="315.21" r="1.3"/>
<circle cx="46.19" cy="328" r="1.3"/>
<circle cx="38.68" cy="328" r="1.3"/>
<circle cx="46.58" cy="328" r="1.3"/>
<circle cx="38.42" cy="328" r="1.3"/>
<circle cx="44.36" cy="328" r="1.3"/>
<circle cx="38.27" cy="328" r="1.3"/>
<circle cx="36.72" cy="328" r="1.3"/>
<circle cx="47.51" cy="328" r="1.3"/>
<circle cx="39.3" cy="258.3" r="1.3"/>
<circle cx="39.37" cy="264.04" r="1.3"/>
<circle cx="48.88" cy="274.7" r="1.3"/>
<circle cx="47.52" cy="272.24" r="1.3"/>
</g>
<g stroke="#f5a45c" stroke-width="0.65" fill="none">
<line x1="61.1" y1="242.72" x2="61.1" y2="220.58"/>
<line x1="61.1" y1="271.01" x2="61.1" y2="308.98"/>
<rect x="52.4" y="242.72" width="17.4" height="28.29"/>
<line x1="52.4" y1="257.97" x2="69.8" y2="257.97" stroke-width="1.05"/>
</g>
<g fill="#f57a14">
<circle cx="58.49" cy="220.58" r="1.3"/>
<circle cx="66.82" cy="220.58" r="1.3"/>
<circle cx="61.59" cy="224.93" r="1.3"/>
<circle cx="63.31" cy="227.14" r="1.3"/>
<circle cx="57.44" cy="234.03" r="1.3"/>
<circle cx="66.57" cy="236.98" r="1.3"/>
<circle cx="63.46" cy="238.62" r="1.3"/>
<circle cx="66.89" cy="242.72" r="1.3"/>
<circle cx="65.98" cy="243.54" r="1.3"/>
<circle cx="58.6" cy="243.54" r="1.3"/>
<circle cx="59.38" cy="243.54" r="1.3"/>
<circle cx="56.96" cy="245.18" r="1.3"/>
<circle cx="56.71" cy="251.74" r="1.3"/>
<circle cx="55.71" cy="251.74" r="1.3"/>
<circle cx="58.64" cy="257.48" r="1.3"/>
<circle cx="62.38" cy="258.3" r="1.3"/>
<circle cx="54.94" cy="260.76" r="1.3"/>
<circle cx="63.31" cy="261.58" r="1.3"/>
<circle cx="59.09" cy="270.6" r="1.3"/>
<circle cx="58.74" cy="272.24" r="1.3"/>
<circle cx="65.05" cy="272.24" r="1.3"/>
<circle cx="60.86" cy="292.41" r="1.3"/>
<circle cx="58.82" cy="305.04" r="1.3"/>
<circle cx="60.87" cy="308.98" r="1.3"/>
<circle cx="63.64" cy="328" r="1.3"/>
<circle cx="55.61" cy="328" r="1.3"/>
<circle cx="66.99" cy="328" r="1.3"/>
<circle cx="55.18" cy="328" r="1.3"/>
<circle cx="64.2" cy="241.9" r="1.3"/>
<circle cx="65.38" cy="244.36" r="1.3"/>
<circle cx="55.12" cy="246.82" r="1.3"/>
<circle cx="64.67" cy="248.46" r="1.3"/>
<circle cx="59.44" cy="250.1" r="1.3"/>
<circle cx="62.07" cy="254.2" r="1.3"/>
<circle cx="55.01" cy="255.84" r="1.3"/>
<circle cx="55.48" cy="259.94" r="1.3"/>
<circle cx="57.14" cy="263.22" r="1.3"/>
<circle cx="66.74" cy="265.68" r="1.3"/>
<circle cx="57.34" cy="268.14" r="1.3"/>
<circle cx="64.27" cy="231.24" r="1.3"/>
<circle cx="66.43" cy="229.6" r="1.3"/>
</g>
<g stroke="#5b9ad6" stroke-width="0.65" fill="none">
<line x1="93.1" y1="233.13" x2="93.1" y2="214.43"/>
<line x1="93.1" y1="245.18" x2="93.1" y2="255.18"/>
<rect x="84.4" y="233.13" width="17.4" height="12.05"/>
<line x1="84.4" y1="239.03" x2="101.8" y2="239.03" stroke-width="1.05"/>
</g>
<g fill="#1c6bb4">
<circle cx="98.58" cy="214.43" r="1.3"/>
<circle cx="91.17" cy="218.94" r="1.3"/>
<circle cx="91.3" cy="218.94" r="1.3"/>
<circle cx="93.41" cy="225.5" r="1.3"/>
<circle cx="96.52" cy="227.96" r="1.3"/>
<circle cx="88.24" cy="230.42" r="1.3"/>
<circle cx="96.18" cy="232.06" r="1.3"/>
<circle cx="96.79" cy="233.7" r="1.3"/>
<circle cx="97.56" cy="233.7" r="1.3"/>
<circle cx="87.35" cy="233.7" r="1.3"/>
<circle cx="98.63" cy="235.34" r="1.3"/>
<circle cx="88.03" cy="237.8" r="1.3"/>
<circle cx="91.13" cy="237.8" r="1.3"/>
<circle cx="94.47" cy="237.8" r="1.3"/>
<circle cx="98.28" cy="237.8" r="1.3"/>
<circle cx="91.12" cy="239.44" r="1.3"/>
<circle cx="98.36" cy="241.08" r="1.3"/>
<circle cx="93.66" cy="241.9" r="1.3"/>
<circle cx="90.77" cy="243.54" r="1.3"/>
<circle cx="90.83" cy="245.18" r="1.3"/>
<circle cx="89.1" cy="246.82" r="1.3"/>
<circle cx="87.87" cy="248.46" r="1.3"/>
<circle cx="88.75" cy="250.92" r="1.3"/>
<circle cx="95.45" cy="253.38" r="1.3"/>
<circle cx="99.26" cy="254.2" r="1.3"/>
<circle cx="88.9" cy="260.76" r="1.3"/>
<circle cx="87.5" cy="263.47" r="1.3"/>
<circle cx="99.14" cy="274.7" r="1.3"/>
<circle cx="93.52" cy="236.16" r="1.3"/>
<circle cx="91.93" cy="234.52" r="1.3"/>
<circle cx="89.84" cy="238.62" r="1.3"/>
<circle cx="94.27" cy="240.26" r="1.3"/>
<circle cx="97.15" cy="236.98" r="1.3"/>
<circle cx="92.55" cy="223.04" r="1.3"/>
<circle cx="92.13" cy="229.6" r="1.3"/>
<circle cx="87.59" cy="242.72" r="1.3"/>
</g>
<g stroke="#f5a45c" stroke-width="0.65" fill="none">
<line x1="111.3" y1="218.12" x2="111.3" y2="205.49"/>
<line x1="111.3" y1="237.39" x2="111.3" y2="257.97"/>
<rect x="102.6" y="218.12" width="17.4" height="19.27"/>
<line x1="102.6" y1="225.83" x2="120" y2="225.83" stroke-width="1.05"/>
</g>
<g fill="#f57a14">
<circle cx="116.46" cy="205.49" r="1.3"/>
<circle cx="105.51" cy="207.46" r="1.3"/>
<circle cx="111.22" cy="209.1" r="1.3"/>
<circle cx="115.5" cy="210.74" r="1.3"/>
<circle cx="106.72" cy="213.2" r="1.3"/>
<circle cx="114.17" cy="214.84" r="1.3"/>
<circle cx="116.88" cy="217.3" r="1.3"/>
<circle cx="112.92" cy="217.3" r="1.3"/>
<circle cx="114.87" cy="217.3" r="1.3"/>
<circle cx="106.42" cy="219.76" r="1.3"/>
<circle cx="110.49" cy="221.4" r="1.3"/>
<circle cx="106.95" cy="223.04" r="1.3"/>
<circle cx="115.57" cy="223.04" r="1.3"/>
<circle cx="108.76" cy="224.68" r="1.3"/>
<circle cx="110.72" cy="226.32" r="1.3"/>
<circle cx="117.49" cy="226.32" r="1.3"/>
<circle cx="115.67" cy="228.78" r="1.3"/>
<circle cx="117.2" cy="231.24" r="1.3"/>
<circle cx="110.72" cy="232.88" r="1.3"/>
<circle cx="111.15" cy="235.34" r="1.3"/>
<circle cx="114.15" cy="236.16" r="1.3"/>
<circle cx="111.04" cy="236.16" r="1.3"/>
<circle cx="108.71" cy="236.16" r="1.3"/>
<circle cx="110.11" cy="237.8" r="1.3"/>
<circle cx="106.92" cy="241.9" r="1.3"/>
<circle cx="109.77" cy="244.36" r="1.3"/>
<circle cx="117.36" cy="249.28" r="1.3"/>
<circle cx="117" cy="252.56" r="1.3"/>
<circle cx="112.87" cy="215.66" r="1.3"/>
<circle cx="111.29" cy="218.94" r="1.3"/>
<circle cx="109.3" cy="222.22" r="1.3"/>
<circle cx="106.21" cy="227.96" r="1.3"/>
<circle cx="108.48" cy="230.42" r="1.3"/>
<circle cx="114.8" cy="234.52" r="1.3"/>
<circle cx="115.86" cy="239.44" r="1.3"/>
<circle cx="109.58" cy="212.38" r="1.3"/>
<circle cx="114.85" cy="225.5" r="1.3"/>
<circle cx="114.71" cy="221.4" r="1.3"/>
</g>
<g stroke="#f28a35" stroke-width="0.8" stroke-opacity="0.58" fill="none">
<line x1="189.1" y1="224.93" x2="239.3" y2="207.46"/>
<line x1="189.1" y1="236.98" x2="239.3" y2="209.1"/>
<line x1="189.1" y1="260.76" x2="239.3" y2="232.88"/>
<line x1="189.1" y1="243.54" x2="239.3" y2="226.32"/>
<line x1="189.1" y1="292.41" x2="239.3" y2="244.36"/>
<line x1="189.1" y1="328" x2="239.3" y2="235.34"/>
<line x1="189.1" y1="272.24" x2="239.3" y2="236.16"/>
<line x1="189.1" y1="261.58" x2="239.3" y2="223.04"/>
<line x1="189.1" y1="220.58" x2="239.3" y2="217.3"/>
<line x1="189.1" y1="328" x2="239.3" y2="226.32"/>
<line x1="189.1" y1="305.04" x2="239.3" y2="252.56"/>
<line x1="189.1" y1="243.54" x2="239.3" y2="213.2"/>
<line x1="189.1" y1="245.18" x2="239.3" y2="237.8"/>
<line x1="189.1" y1="220.58" x2="239.3" y2="214.84"/>
<line x1="189.1" y1="258.3" x2="239.3" y2="236.16"/>
<line x1="189.1" y1="227.14" x2="239.3" y2="221.4"/>
<line x1="189.1" y1="234.03" x2="239.3" y2="223.04"/>
<line x1="189.1" y1="242.72" x2="239.3" y2="224.68"/>
<line x1="189.1" y1="257.48" x2="239.3" y2="217.3"/>
<line x1="189.1" y1="243.54" x2="239.3" y2="210.74"/>
<line x1="189.1" y1="251.74" x2="239.3" y2="205.49"/>
<line x1="189.1" y1="328" x2="239.3" y2="228.78"/>
<line x1="189.1" y1="272.24" x2="239.3" y2="241.9"/>
<line x1="189.1" y1="308.98" x2="239.3" y2="236.16"/>
<line x1="189.1" y1="328" x2="239.3" y2="231.24"/>
<line x1="189.1" y1="270.6" x2="239.3" y2="249.28"/>
<line x1="189.1" y1="251.74" x2="239.3" y2="217.3"/>
<line x1="189.1" y1="238.62" x2="239.3" y2="219.76"/>
</g>
<g stroke="#3a82c4" stroke-width="0.8" stroke-opacity="0.6" fill="none">
<line x1="189.1" y1="277.98" x2="239.3" y2="237.8"/>
<line x1="189.1" y1="328" x2="239.3" y2="237.8"/>
<line x1="189.1" y1="328" x2="239.3" y2="233.7"/>
<line x1="189.1" y1="280.85" x2="239.3" y2="230.42"/>
<line x1="189.1" y1="266.5" x2="239.3" y2="239.44"/>
<line x1="189.1" y1="260.76" x2="239.3" y2="232.06"/>
<line x1="189.1" y1="285.03" x2="239.3" y2="233.7"/>
<line x1="189.1" y1="254.2" x2="239.3" y2="214.43"/>
<line x1="189.1" y1="328" x2="239.3" y2="227.96"/>
<line x1="189.1" y1="286.18" x2="239.3" y2="260.76"/>
<line x1="189.1" y1="270.03" x2="239.3" y2="250.92"/>
<line x1="189.1" y1="261.58" x2="239.3" y2="235.34"/>
<line x1="189.1" y1="328" x2="239.3" y2="241.08"/>
<line x1="189.1" y1="302.01" x2="239.3" y2="246.82"/>
<line x1="189.1" y1="328" x2="239.3" y2="237.8"/>
<line x1="189.1" y1="309.39" x2="239.3" y2="274.7"/>
<line x1="189.1" y1="328" x2="239.3" y2="237.8"/>
<line x1="189.1" y1="260.76" x2="239.3" y2="245.18"/>
<line x1="189.1" y1="270.6" x2="239.3" y2="233.7"/>
<line x1="189.1" y1="223.86" x2="239.3" y2="218.94"/>
<line x1="189.1" y1="262.4" x2="239.3" y2="263.47"/>
<line x1="189.1" y1="255.84" x2="239.3" y2="243.54"/>
<line x1="189.1" y1="289.46" x2="239.3" y2="254.2"/>
<line x1="189.1" y1="328" x2="239.3" y2="241.9"/>
<line x1="189.1" y1="238.62" x2="239.3" y2="218.94"/>
<line x1="189.1" y1="328" x2="239.3" y2="225.5"/>
<line x1="189.1" y1="268.14" x2="239.3" y2="248.46"/>
<line x1="189.1" y1="315.21" x2="239.3" y2="253.38"/>
</g>
<text x="278.8" y="185" font-size="10.0" font-weight="bold" text-anchor="start" fill="#000" letter-spacing="0.22" xml:space="preserve"><tspan>D) </tspan><tspan font-style="italic">HOXC6</tspan><tspan> (Cell &amp; EV)</tspan></text>
<line x1="299.6" y1="200" x2="299.6" y2="334.5" stroke="#3d3d3d" stroke-width="1.0"/>
<line x1="299.1" y1="334" x2="410" y2="334" stroke="#3d3d3d" stroke-width="1.0"/>
<line x1="297.6" y1="328" x2="299.6" y2="328" stroke="#3d3d3d" stroke-width="0.8"/>
<text x="295.8" y="330.15" font-size="6.0" font-weight="normal" text-anchor="end" fill="#111" stroke="#111" stroke-width="0.25" xml:space="preserve"><tspan>0</tspan></text>
<line x1="297.6" y1="284.9" x2="299.6" y2="284.9" stroke="#3d3d3d" stroke-width="0.8"/>
<text x="295.8" y="287.05" font-size="6.0" font-weight="normal" text-anchor="end" fill="#111" stroke="#111" stroke-width="0.25" xml:space="preserve"><tspan>5</tspan></text>
<line x1="297.6" y1="241.8" x2="299.6" y2="241.8" stroke="#3d3d3d" stroke-width="0.8"/>
<text x="295.8" y="243.95" font-size="6.0" font-weight="normal" text-anchor="end" fill="#111" stroke="#111" stroke-width="0.25" xml:space="preserve"><tspan>10</tspan></text>
<line x1="329.7" y1="334" x2="329.7" y2="336" stroke="#3d3d3d" stroke-width="0.8"/>
<text x="329.7" y="342.3" font-size="6.5" font-weight="normal" text-anchor="middle" fill="#222" stroke="#222" stroke-width="0.1" xml:space="preserve"><tspan>Cell</tspan></text>
<line x1="379.9" y1="334" x2="379.9" y2="336" stroke="#3d3d3d" stroke-width="0.8"/>
<text x="379.9" y="342.3" font-size="6.5" font-weight="normal" text-anchor="middle" fill="#222" stroke="#222" stroke-width="0.1" xml:space="preserve"><tspan>EV</tspan></text>
<g transform="translate(285.5,267) rotate(-90)">
<text x="0" y="0" font-size="7.3" font-weight="normal" text-anchor="middle" fill="#111" stroke="#111" stroke-width="0.22" xml:space="preserve"><tspan font-style="italic">HOXC6</tspan></text>
</g>
<line x1="436.2" y1="200" x2="436.2" y2="334.5" stroke="#3d3d3d" stroke-width="1.0"/>
<line x1="435.7" y1="334" x2="546.6" y2="334" stroke="#3d3d3d" stroke-width="1.0"/>
<line x1="434.2" y1="328" x2="436.2" y2="328" stroke="#3d3d3d" stroke-width="0.8"/>
<text x="432.4" y="330.15" font-size="6.0" font-weight="normal" text-anchor="end" fill="#111" stroke="#111" stroke-width="0.25" xml:space="preserve"><tspan>0</tspan></text>
<line x1="434.2" y1="284.9" x2="436.2" y2="284.9" stroke="#3d3d3d" stroke-width="0.8"/>
<text x="432.4" y="287.05" font-size="6.0" font-weight="normal" text-anchor="end" fill="#111" stroke="#111" stroke-width="0.25" xml:space="preserve"><tspan>5</tspan></text>
<line x1="434.2" y1="241.8" x2="436.2" y2="241.8" stroke="#3d3d3d" stroke-width="0.8"/>
<text x="432.4" y="243.95" font-size="6.0" font-weight="normal" text-anchor="end" fill="#111" stroke="#111" stroke-width="0.25" xml:space="preserve"><tspan>10</tspan></text>
<line x1="466.3" y1="334" x2="466.3" y2="336" stroke="#3d3d3d" stroke-width="0.8"/>
<text x="466.3" y="342.3" font-size="6.5" font-weight="normal" text-anchor="middle" fill="#222" stroke="#222" stroke-width="0.1" xml:space="preserve"><tspan>Cell</tspan></text>
<line x1="516.5" y1="334" x2="516.5" y2="336" stroke="#3d3d3d" stroke-width="0.8"/>
<text x="516.5" y="342.3" font-size="6.5" font-weight="normal" text-anchor="middle" fill="#222" stroke="#222" stroke-width="0.1" xml:space="preserve"><tspan>EV</tspan></text>
<g transform="translate(422.1,267) rotate(-90)">
<text x="0" y="0" font-size="7.3" font-weight="normal" text-anchor="middle" fill="#111" stroke="#111" stroke-width="0.22" xml:space="preserve"><tspan font-style="italic">HOXC6</tspan></text>
</g>
<text x="329.7" y="196.3" font-size="7.6" font-weight="normal" text-anchor="middle" fill="#111" stroke="#111" stroke-width="0.15" xml:space="preserve"><tspan font-style="italic">p</tspan><tspan> = 0.019</tspan></text>
<path d="M320.6 203.8 V198.5 H338.8 V203.8" stroke="#333" stroke-width="0.85" fill="none"/>
<text x="379.9" y="196.3" font-size="7.6" font-weight="normal" text-anchor="middle" fill="#111" stroke="#111" stroke-width="0.15" xml:space="preserve"><tspan font-style="italic">p</tspan><tspan> = 0.022</tspan></text>
<path d="M370.8 203.8 V198.5 H389 V203.8" stroke="#333" stroke-width="0.85" fill="none"/>
<g stroke="#5b9ad6" stroke-width="0.65" fill="none">
<line x1="320.6" y1="285.07" x2="320.6" y2="236.11"/>
<rect x="311.9" y="285.07" width="17.4" height="42.93"/>
<line x1="311.9" y1="328" x2="329.3" y2="328" stroke-width="1.05"/>
</g>
<g fill="#1c6bb4">
<circle cx="318.42" cy="236.11" r="1.3"/>
<circle cx="316.27" cy="247.83" r="1.3"/>
<circle cx="322.47" cy="248.7" r="1.3"/>
<circle cx="315.3" cy="265.59" r="1.3"/>
<circle cx="321.04" cy="272.66" r="1.3"/>
<circle cx="318.93" cy="273.69" r="1.3"/>
<circle cx="315.12" cy="279.12" r="1.3"/>
<circle cx="320.69" cy="278.87" r="1.3"/>
<circle cx="314.86" cy="301.28" r="1.3"/>
<circle cx="319.78" cy="299.55" r="1.3"/>
<circle cx="315.27" cy="303.86" r="1.3"/>
<circle cx="315.52" cy="328" r="1.3"/>
<circle cx="319.66" cy="328" r="1.3"/>
<circle cx="324.65" cy="328" r="1.3"/>
<circle cx="315.94" cy="328" r="1.3"/>
<circle cx="317.17" cy="328" r="1.3"/>
<circle cx="322.18" cy="328" r="1.3"/>
<circle cx="326.15" cy="328" r="1.3"/>
<circle cx="321.56" cy="328" r="1.3"/>
<circle cx="319.32" cy="328" r="1.3"/>
<circle cx="326.51" cy="328" r="1.3"/>
<circle cx="314.98" cy="328" r="1.3"/>
<circle cx="325.05" cy="328" r="1.3"/>
<circle cx="317.99" cy="328" r="1.3"/>
<circle cx="316.19" cy="328" r="1.3"/>
<circle cx="315.86" cy="328" r="1.3"/>
<circle cx="318.23" cy="328" r="1.3"/>
<circle cx="324.52" cy="328" r="1.3"/>
</g>
<g stroke="#f5a45c" stroke-width="0.65" fill="none">
<line x1="338.8" y1="242.92" x2="338.8" y2="206.46"/>
<rect x="330.1" y="242.92" width="17.4" height="85.08"/>
<line x1="330.1" y1="267.66" x2="347.5" y2="267.66" stroke-width="1.05"/>
</g>
<g fill="#f57a14">
<circle cx="334.84" cy="206.46" r="1.3"/>
<circle cx="339.81" cy="224.56" r="1.3"/>
<circle cx="340.52" cy="228.01" r="1.3"/>
<circle cx="337.22" cy="228.01" r="1.3"/>
<circle cx="339.39" cy="231.46" r="1.3"/>
<circle cx="333.38" cy="234.04" r="1.3"/>
<circle cx="333.34" cy="234.04" r="1.3"/>
<circle cx="335.15" cy="234.04" r="1.3"/>
<circle cx="341.04" cy="242.66" r="1.3"/>
<circle cx="337.9" cy="242.66" r="1.3"/>
<circle cx="336.5" cy="242.66" r="1.3"/>
<circle cx="339.86" cy="245.25" r="1.3"/>
<circle cx="338.22" cy="246.97" r="1.3"/>
<circle cx="336.32" cy="251.8" r="1.3"/>
<circle cx="342.45" cy="253.87" r="1.3"/>
<circle cx="341.27" cy="261.88" r="1.3"/>
<circle cx="335.63" cy="261.63" r="1.3"/>
<circle cx="339.72" cy="264.21" r="1.3"/>
<circle cx="339.11" cy="267.66" r="1.3"/>
<circle cx="343.45" cy="271.97" r="1.3"/>
<circle cx="341.65" cy="274.56" r="1.3"/>
<circle cx="336.17" cy="276.28" r="1.3"/>
<circle cx="344.75" cy="278.87" r="1.3"/>
<circle cx="334.06" cy="299.9" r="1.3"/>
<circle cx="337.78" cy="259.04" r="1.3"/>
<circle cx="341.99" cy="240.08" r="1.3"/>
<circle cx="334.48" cy="248.7" r="1.3"/>
<circle cx="338.66" cy="269.38" r="1.3"/>
<circle cx="333.09" cy="328" r="1.3"/>
<circle cx="340.89" cy="328" r="1.3"/>
<circle cx="342.08" cy="328" r="1.3"/>
<circle cx="339.71" cy="328" r="1.3"/>
<circle cx="343.46" cy="328" r="1.3"/>
<circle cx="336.49" cy="328" r="1.3"/>
</g>
<g stroke="#5b9ad6" stroke-width="0.65" fill="none">
<line x1="370.8" y1="235.25" x2="370.8" y2="226.03"/>
<line x1="370.8" y1="254.9" x2="370.8" y2="263.69"/>
<rect x="362.1" y="235.25" width="17.4" height="19.65"/>
<line x1="362.1" y1="246.63" x2="379.5" y2="246.63" stroke-width="1.05"/>
</g>
<g fill="#1c6bb4">
<circle cx="373.22" cy="226.03" r="1.3"/>
<circle cx="371.97" cy="228.01" r="1.3"/>
<circle cx="371.79" cy="228.01" r="1.3"/>
<circle cx="370.26" cy="230.59" r="1.3"/>
<circle cx="375.02" cy="233.18" r="1.3"/>
<circle cx="376.31" cy="233.18" r="1.3"/>
<circle cx="370.48" cy="234.04" r="1.3"/>
<circle cx="372.84" cy="237.49" r="1.3"/>
<circle cx="365.35" cy="240.08" r="1.3"/>
<circle cx="373.3" cy="241.8" r="1.3"/>
<circle cx="372.62" cy="243.52" r="1.3"/>
<circle cx="376.91" cy="243.52" r="1.3"/>
<circle cx="374.79" cy="245.25" r="1.3"/>
<circle cx="368.13" cy="246.97" r="1.3"/>
<circle cx="369.38" cy="246.97" r="1.3"/>
<circle cx="372.89" cy="246.97" r="1.3"/>
<circle cx="364.88" cy="248.7" r="1.3"/>
<circle cx="370.33" cy="250.42" r="1.3"/>
<circle cx="366.68" cy="253.01" r="1.3"/>
<circle cx="366.05" cy="255.59" r="1.3"/>
<circle cx="365.33" cy="258.18" r="1.3"/>
<circle cx="374.13" cy="263.35" r="1.3"/>
<circle cx="366.2" cy="265.94" r="1.3"/>
<circle cx="367.67" cy="268.95" r="1.3"/>
<circle cx="369.45" cy="294.73" r="1.3"/>
<circle cx="375.41" cy="294.73" r="1.3"/>
<circle cx="365.6" cy="328" r="1.3"/>
<circle cx="370.17" cy="328" r="1.3"/>
<circle cx="371.41" cy="239.21" r="1.3"/>
<circle cx="375.55" cy="242.66" r="1.3"/>
<circle cx="374.76" cy="246.11" r="1.3"/>
<circle cx="375.31" cy="249.56" r="1.3"/>
<circle cx="368.05" cy="236.63" r="1.3"/>
</g>
<g stroke="#f5a45c" stroke-width="0.65" fill="none">
<line x1="389" y1="222.84" x2="389" y2="210.25"/>
<line x1="389" y1="244.39" x2="389" y2="260.94"/>
<rect x="380.3" y="222.84" width="17.4" height="21.55"/>
<line x1="380.3" y1="231.89" x2="397.7" y2="231.89" stroke-width="1.05"/>
</g>
<g fill="#f57a14">
<circle cx="387.95" cy="210.25" r="1.3"/>
<circle cx="387.25" cy="212.49" r="1.3"/>
<circle cx="393.76" cy="214.22" r="1.3"/>
<circle cx="394.68" cy="215.94" r="1.3"/>
<circle cx="384.67" cy="217.66" r="1.3"/>
<circle cx="384.99" cy="219.39" r="1.3"/>
<circle cx="385.68" cy="221.11" r="1.3"/>
<circle cx="385.69" cy="221.11" r="1.3"/>
<circle cx="388.81" cy="221.11" r="1.3"/>
<circle cx="390.11" cy="222.84" r="1.3"/>
<circle cx="386.06" cy="224.56" r="1.3"/>
<circle cx="382.85" cy="226.28" r="1.3"/>
<circle cx="387.99" cy="228.01" r="1.3"/>
<circle cx="387.38" cy="229.73" r="1.3"/>
<circle cx="389.82" cy="231.46" r="1.3"/>
<circle cx="394.62" cy="231.46" r="1.3"/>
<circle cx="391.36" cy="233.18" r="1.3"/>
<circle cx="389.19" cy="234.9" r="1.3"/>
<circle cx="390.46" cy="237.49" r="1.3"/>
<circle cx="391.18" cy="240.08" r="1.3"/>
<circle cx="383.47" cy="242.66" r="1.3"/>
<circle cx="393.95" cy="245.25" r="1.3"/>
<circle cx="392.47" cy="247.83" r="1.3"/>
<circle cx="393.64" cy="251.28" r="1.3"/>
<circle cx="392.69" cy="253.87" r="1.3"/>
<circle cx="387.67" cy="256.45" r="1.3"/>
<circle cx="387.75" cy="260.94" r="1.3"/>
<circle cx="384.08" cy="328" r="1.3"/>
<circle cx="390.67" cy="216.8" r="1.3"/>
<circle cx="383.57" cy="228.87" r="1.3"/>
<circle cx="383.64" cy="241.8" r="1.3"/>
<circle cx="385.39" cy="225.42" r="1.3"/>
<circle cx="384.81" cy="221.97" r="1.3"/>
<circle cx="387.02" cy="215.08" r="1.3"/>
<circle cx="383.45" cy="218.53" r="1.3"/>
<circle cx="382.8" cy="223.7" r="1.3"/>
<circle cx="384.68" cy="230.59" r="1.3"/>
<circle cx="384.06" cy="234.04" r="1.3"/>
<circle cx="387.31" cy="227.15" r="1.3"/>
<circle cx="383.12" cy="213.35" r="1.3"/>
</g>
<g stroke="#f28a35" stroke-width="0.8" stroke-opacity="0.58" fill="none">
<line x1="466.3" y1="267.66" x2="516.5" y2="247.83"/>
<line x1="466.3" y1="234.04" x2="516.5" y2="215.94"/>
<line x1="466.3" y1="231.46" x2="516.5" y2="219.39"/>
<line x1="466.3" y1="328" x2="516.5" y2="245.25"/>
<line x1="466.3" y1="261.88" x2="516.5" y2="242.66"/>
<line x1="466.3" y1="251.8" x2="516.5" y2="253.87"/>
<line x1="466.3" y1="206.46" x2="516.5" y2="228.01"/>
<line x1="466.3" y1="245.25" x2="516.5" y2="231.46"/>
<line x1="466.3" y1="234.04" x2="516.5" y2="215.08"/>
<line x1="466.3" y1="228.01" x2="516.5" y2="212.49"/>
<line x1="466.3" y1="224.56" x2="516.5" y2="210.25"/>
<line x1="466.3" y1="253.87" x2="516.5" y2="222.84"/>
<line x1="466.3" y1="328" x2="516.5" y2="231.46"/>
<line x1="466.3" y1="328" x2="516.5" y2="328"/>
<line x1="466.3" y1="271.97" x2="516.5" y2="221.11"/>
<line x1="466.3" y1="264.21" x2="516.5" y2="225.42"/>
<line x1="466.3" y1="234.04" x2="516.5" y2="214.22"/>
<line x1="466.3" y1="240.08" x2="516.5" y2="228.87"/>
<line x1="466.3" y1="259.04" x2="516.5" y2="229.73"/>
<line x1="466.3" y1="248.7" x2="516.5" y2="256.45"/>
<line x1="466.3" y1="328" x2="516.5" y2="240.08"/>
<line x1="466.3" y1="276.28" x2="516.5" y2="237.49"/>
<line x1="466.3" y1="328" x2="516.5" y2="241.8"/>
<line x1="466.3" y1="328" x2="516.5" y2="221.11"/>
<line x1="466.3" y1="261.63" x2="516.5" y2="226.28"/>
<line x1="466.3" y1="269.38" x2="516.5" y2="260.94"/>
<line x1="466.3" y1="246.97" x2="516.5" y2="221.11"/>
<line x1="466.3" y1="274.56" x2="516.5" y2="234.9"/>
<line x1="466.3" y1="242.66" x2="516.5" y2="233.18"/>
<line x1="466.3" y1="299.9" x2="516.5" y2="251.28"/>
<line x1="466.3" y1="278.87" x2="516.5" y2="224.56"/>
<line x1="466.3" y1="242.66" x2="516.5" y2="216.8"/>
<line x1="466.3" y1="228.01" x2="516.5" y2="217.66"/>
<line x1="466.3" y1="242.66" x2="516.5" y2="221.97"/>
</g>
<g stroke="#3a82c4" stroke-width="0.8" stroke-opacity="0.6" fill="none">
<line x1="466.3" y1="328" x2="516.5" y2="258.18"/>
<line x1="466.3" y1="328" x2="516.5" y2="233.18"/>
<line x1="466.3" y1="272.66" x2="516.5" y2="234.04"/>
<line x1="466.3" y1="301.28" x2="516.5" y2="265.94"/>
<line x1="466.3" y1="278.87" x2="516.5" y2="243.52"/>
<line x1="466.3" y1="328" x2="516.5" y2="246.97"/>
<line x1="466.3" y1="299.55" x2="516.5" y2="268.95"/>
<line x1="466.3" y1="247.83" x2="516.5" y2="253.01"/>
<line x1="466.3" y1="328" x2="516.5" y2="246.97"/>
<line x1="466.3" y1="328" x2="516.5" y2="255.59"/>
<line x1="466.3" y1="248.7" x2="516.5" y2="240.08"/>
<line x1="466.3" y1="328" x2="516.5" y2="246.97"/>
<line x1="466.3" y1="328" x2="516.5" y2="294.73"/>
<line x1="466.3" y1="279.12" x2="516.5" y2="233.18"/>
<line x1="466.3" y1="328" x2="516.5" y2="328"/>
<line x1="466.3" y1="328" x2="516.5" y2="248.7"/>
<line x1="466.3" y1="328" x2="516.5" y2="250.42"/>
<line x1="466.3" y1="265.59" x2="516.5" y2="243.52"/>
<line x1="466.3" y1="328" x2="516.5" y2="228.01"/>
<line x1="466.3" y1="328" x2="516.5" y2="294.73"/>
<line x1="466.3" y1="236.11" x2="516.5" y2="241.8"/>
<line x1="466.3" y1="303.86" x2="516.5" y2="230.59"/>
<line x1="466.3" y1="328" x2="516.5" y2="226.03"/>
<line x1="466.3" y1="328" x2="516.5" y2="263.35"/>
<line x1="466.3" y1="328" x2="516.5" y2="328"/>
<line x1="466.3" y1="328" x2="516.5" y2="237.49"/>
<line x1="466.3" y1="328" x2="516.5" y2="245.25"/>
<line x1="466.3" y1="273.69" x2="516.5" y2="228.01"/>
</g>
<text x="194" y="357" font-size="11.6" font-weight="normal" text-anchor="start" fill="#111" stroke="#111" stroke-width="0.25" xml:space="preserve"><tspan>Key:</tspan></text>
<g stroke="#3c86cb" stroke-width="1.3" fill="none">
<line x1="233.3" y1="346" x2="233.3" y2="358.6"/>
<rect x="227.2" y="348.6" width="12.4" height="7.4" fill="#fff"/>
<line x1="227.2" y1="352.3" x2="239.6" y2="352.3"/>
</g>
<circle cx="233.3" cy="352.3" r="2.0" fill="#1c6bb4"/>
<text x="244" y="357" font-size="11.6" font-weight="normal" text-anchor="start" fill="#111" stroke="#111" stroke-width="0.25" xml:space="preserve"><tspan>NC</tspan></text>
<g stroke="#f5923a" stroke-width="1.3" fill="none">
<line x1="275.8" y1="346" x2="275.8" y2="358.6"/>
<rect x="269.7" y="348.6" width="12.4" height="7.4" fill="#fff"/>
<line x1="269.7" y1="352.3" x2="282.1" y2="352.3"/>
</g>
<circle cx="275.8" cy="352.3" r="2.0" fill="#f57a14"/>
<text x="285" y="357" font-size="11.6" font-weight="normal" text-anchor="start" fill="#111" stroke="#111" stroke-width="0.25" xml:space="preserve"><tspan>PCa</tspan></text>
</svg>
</body></html>
